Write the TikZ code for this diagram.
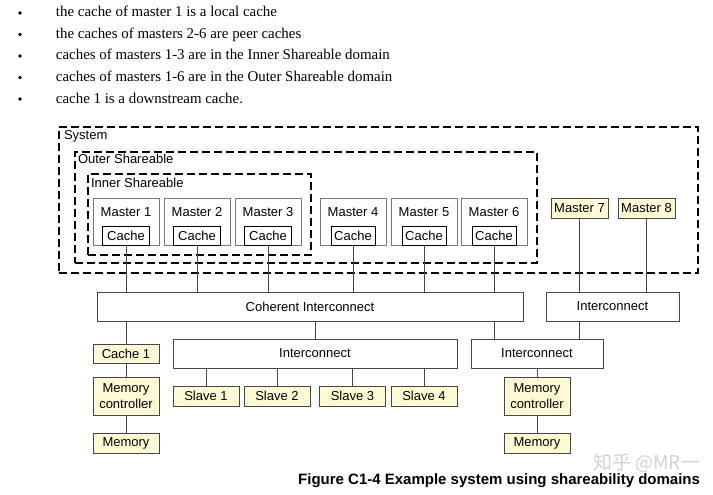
\documentclass[tikz,border=0pt]{standalone}
\usepackage{fontspec}
\setmainfont{Liberation Sans}
\newfontfamily\seriffont{Liberation Serif}
\newfontfamily\cjkfont{Noto Sans CJK SC}
\definecolor{boxyellow}{RGB}{255,250,214}
\definecolor{gridgray}{RGB}{120,120,120}
\definecolor{edgegray}{RGB}{70,70,70}
\begin{document}
\begin{tikzpicture}[x=1pt,y=-1pt,
  every node/.style={inner sep=0pt, outer sep=0pt},
  txt/.style={font=\fontsize{13}{14}\selectfont},
  masterbox/.style={draw=gridgray, line width=0.9pt, fill=white, minimum width=66pt, minimum height=47pt},
  cachebox/.style={draw=black, line width=0.9pt, fill=white, minimum width=47pt, minimum height=19pt, txt},
  ybox/.style={draw=edgegray, line width=0.9pt, fill=boxyellow, minimum width=66pt, minimum height=20pt, txt, align=center},
  icbox/.style={draw=edgegray, line width=0.9pt, fill=white, minimum height=29pt, txt},
  dombox/.style={draw=black, line width=1.6pt, dash pattern=on 8pt off 4pt},
  wire/.style={draw=edgegray, line width=0.8pt},
  bul/.style={font=\seriffont\fontsize{14.9}{17}\selectfont, anchor=base west},
]
\useasboundingbox (0,0) rectangle (713,495);
% bullets
\foreach \t [count=\i] in {the cache of master 1 is a local cache,
  the caches of masters 2-6 are peer caches,
  caches of masters 1-3 are in the Inner Shareable domain,
  caches of masters 1-6 are in the Outer Shareable domain,
  cache 1 is a downstream cache.}{
  \pgfmathsetmacro\yy{12+21.5*(\i-1)}
  \node[circle, fill=black, minimum size=3.6pt] (b\i) at (20,\yy+1) {};
  \node[bul] (t\i) at (56,\yy+5) {\t};
}
% domains
\node[dombox, minimum width=639pt, minimum height=146pt] (system) at (378.5,200) {};
\node[txt, anchor=west] (systemlbl) at (64,136) {System};
\node[dombox, minimum width=462pt, minimum height=111pt] (outer) at (306,207.5) {};
\node[txt, anchor=west] (outerlbl) at (78,159) {Outer Shareable};
\node[dombox, minimum width=223pt, minimum height=81pt] (inner) at (199.5,214.5) {};
\node[txt, anchor=west] (innerlbl) at (91,183) {Inner Shareable};
% masters
\foreach \n/\x/\w in {1/126/47,2/197/47,3/268/47,4/353/44,5/424/44,6/494/44}{
  \node[masterbox] (m\n) at (\x,221.5) {};
  \node[txt] (ml\n) at (\x,212) {Master \n};
  \node[cachebox, minimum width=\w pt, anchor=south] (c\n) at (m\n.south) {Cache};
}
\node[ybox, minimum width=57pt] (m7) at (579.5,208) {Master 7};
\node[ybox, minimum width=57pt] (m8) at (646.5,208) {Master 8};
% interconnects
\node[icbox, minimum width=426pt] (ci) at (310,306.5) {Coherent Interconnect};
\node[icbox, minimum width=133pt] (ric) at (612.5,306.5) {Interconnect};
\node[icbox, minimum width=284pt] (mic) at (315,353.5) {Interconnect};
\node[icbox, minimum width=132pt] (lic) at (537,353.5) {Interconnect};
% lower blocks
\node[ybox, minimum height=19pt] (cache1) at (126,353.5) {Cache 1};
\node[ybox, minimum height=38pt, font=\fontsize{13}{15.5}\selectfont] (mcl) at (126,396) {Memory\\controller};
\node[ybox] (meml) at (126,443) {Memory};
\foreach \n/\x in {1/206,2/277,3/352.5,4/424}{
  \node[ybox, minimum width=66pt] (s\n) at (\x,396) {Slave \n};
}
\node[ybox, minimum height=38pt, font=\fontsize{13}{15.5}\selectfont] (mcr) at (537,396) {Memory\\controller};
\node[ybox] (memr) at (537,443) {Memory};
% wires
\foreach \n in {1,...,6}{ \draw[wire] (c\n.south) -- (c\n.south |- ci.north); }
\draw[wire] (m7.south) -- (m7.south |- ric.north);
\draw[wire] (m8.south) -- (m8.south |- ric.north);
\draw[wire] (ci.south -| cache1.north) -- (cache1.north);
\draw[wire] (cache1.south) -- (mcl.north);
\draw[wire] (mcl.south) -- (meml.north);
\draw[wire] (ci.south -| mic.north) -- (mic.north);
\draw[wire] (ci.south -| c6.south) -- (lic.north -| c6.south);
\draw[wire] (ric.south -| m7.south) -- (lic.north -| m7.south);
\foreach \n in {1,...,4}{ \draw[wire] (mic.south -| s\n.north) -- (s\n.north); }
\draw[wire] (lic.south) -- (mcr.north);
\draw[wire] (mcr.south) -- (memr.north);
% watermark and caption
\node[font=\cjkfont\fontsize{19}{20}\selectfont, text=black!18, anchor=east] (wm) at (700,463) {知乎 @MR一};
\node[font=\bfseries\fontsize{15}{17}\selectfont, anchor=east] (caption) at (700,481) {Figure C1-4 Example system using shareability domains};
\end{tikzpicture}
\end{document}
